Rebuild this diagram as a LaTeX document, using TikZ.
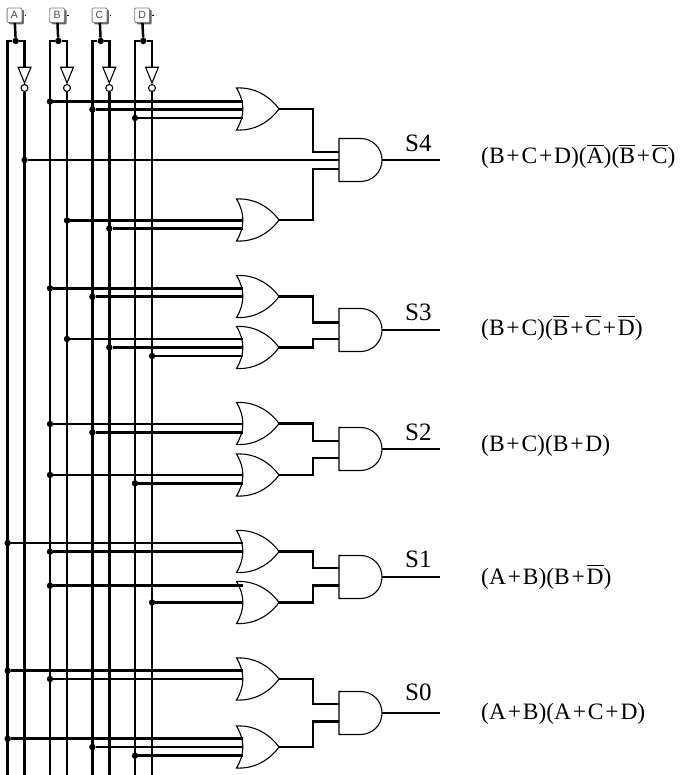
\documentclass[tikz,border=0pt]{standalone}
\usepackage{fontspec}
\setmainfont{Liberation Serif}
\setsansfont{Liberation Sans}
\usetikzlibrary{shadows}
\newcommand\nb[1]{$\overline{\hbox{\rule{0pt}{17.5pt}#1}}$}
\newcommand\pl{\kern1.8pt+\kern1.8pt}
\tikzset{
  wire/.style={line width=2.5pt, line cap=butt, line join=miter},
  gateline/.style={line width=1.1pt, fill=white, line join=miter},
  joint/.style={circle, fill=black, inner sep=0pt, minimum size=6.4pt},
  bubble/.style={circle, draw, line width=1.1pt, fill=white, inner sep=0pt, minimum size=7pt},
  pinbox/.style={draw=gray, line width=.8pt, fill=white, rounded corners=1pt, inner sep=0pt,
    minimum width=14.8pt, minimum height=14.4pt, text=black!70, font=\sffamily\fontsize{10.5}{11}\selectfont,
    drop shadow={shadow xshift=2pt, shadow yshift=-1.8pt, fill=black!60, opacity=1}},
  pintick/.style={rectangle, fill=black, inner sep=0pt, minimum size=1.8pt},
  outname/.style={anchor=base, inner sep=0pt, font=\fontsize{25}{27}\selectfont},
  formula/.style={anchor=base west, inner sep=0pt, font=\fontsize{23.5}{26}\selectfont},
  pics/orgate/.style={code={
    \draw[gateline] (0,-21) .. controls (18,-22) and (33,-13) .. (42.5,0)
      .. controls (33,13) and (18,22) .. (0,21)
      .. controls (8.5,7) and (8.5,-7) .. (0,-21) -- cycle;
    \coordinate (-out) at (42.5,0);
    \coordinate (-back) at (6.5,0);
  }},
  pics/andgate/.style={code={
    \draw[gateline] (0,-21.5) -- (21.5,-21.5) .. controls (33.5,-21.5) and (43,-12) .. (43,0)
      .. controls (43,12) and (33.5,21.5) .. (21.5,21.5) -- (0,21.5) -- cycle;
    \coordinate (-in) at (0,0);
    \coordinate (-out) at (43,0);
  }},
}
\begin{document}
\begin{tikzpicture}[x=1pt, y=-1pt]
    \newcommand\XO{236.5}
    \newcommand\XK{313}
    \newcommand\XN{339}
    \newcommand\XE{440}
    \useasboundingbox (0,0) rectangle (680,775);
    \foreach \p/\xl/\xr/\xs in {A/7.7/24.5/15.7, B/50/67/58.3, C/92.4/109.3/100.7, D/135/152/143.3} {
      \node[pinbox] (P\p) at (\xs-1.2,15.3) {\p};
      \node[pintick] (T\p) at (\xs+9.7,15.5) {};
      \node[joint] (J\p) at (\xs,41) {};
      \node[bubble] (U\p) at (\xr,88) {};
      \coordinate (R\p) at (\xl,775);
      \coordinate (R\p n) at (\xr,775);
      \coordinate (V\p) at (\xr,67.3);
      \draw[wire] (P\p) -- (J\p);
      \draw[wire] (J\p) -| (R\p);
      \draw[wire] (J\p) -| (V\p);
      \draw[wire] (U\p) -- (R\p n);
      \draw[gateline] (V\p) ++(-6.4,0) -- ++(12.8,0) -- ++(-6.4,15.7) -- cycle;
    }
    \foreach \g/\y in {O4a/109, O4b/220, O3a/296.5, O3b/347.5, O2a/423.5, O2b/475, O1a/551.5, O1b/602.5, O0a/679, O0b/747}
      \pic (\g) at (\XO,\y) {orgate};
    \foreach \n/\y in {4/160, 3/330, 2/449, 1/577, 0/713}
      \pic (N\n) at (\XN,\y) {andgate};
    \foreach \r/\y/\g [count=\i] in {
      B/101.5/O4a, C/109.5/O4a, D/118/O4a, Bn/220.5/O4b, Cn/228.5/O4b,
      B/288.3/O3a, C/296.7/O3a, Bn/339/O3b, Cn/347.4/O3b, Dn/356/O3b,
      B/424/O2a, C/432.4/O2a, B/475/O2b, D/483.4/O2b,
      A/543/O1a, B/551.7/O1a, B/585.7/O1b, Dn/602.4/O1b,
      A/670.7/O0a, B/679/O0a, A/738.7/O0b, C/747/O0b, D/755.7/O0b} {
      \node[joint] (W\i) at (R\r |- 0,\y) {};
      \draw[wire] (W\i) -- (W\i -| \g-back);
    }
    \node[joint] (WAn) at (RAn |- N4-in) {};
    \draw[wire] (WAn) -- (N4-in);
    \foreach \n/\yu/\yd/\yl/\yf/\txt in {
      4/152/169/151.7/164/{(B\pl C\pl D)(\nb{A})(\nb{B}\pl\nb{C})},
      3/322.5/339/320.7/335/{(B\pl C)(\nb{B}\pl\nb{C}\pl\nb{D})},
      2/441/458/440/451/{(B\pl C)(B\pl D)},
      1/568/585.7/567/584/{(A\pl B)(B\pl\nb{D})},
      0/704/721.7/700.7/719/{(A\pl B)(A\pl C\pl D)}} {
      \coordinate (Iu\n) at (\XN,\yu);
      \coordinate (Id\n) at (\XN,\yd);
      \coordinate (E\n) at (\XE,0);
      \draw[wire] (O\n a-out) -| (\XK,\yu) -- (Iu\n);
      \draw[wire] (O\n b-out) -| (\XK,\yd) -- (Id\n);
      \draw[wire] (N\n-out) -- (N\n-out -| E\n);
      \node[outname] (S\n) at (418.3,\yl) {S\n};
      \node[formula] (F\n) at (481,\yf) {\txt};
    }
  \end{tikzpicture}
\end{document}
